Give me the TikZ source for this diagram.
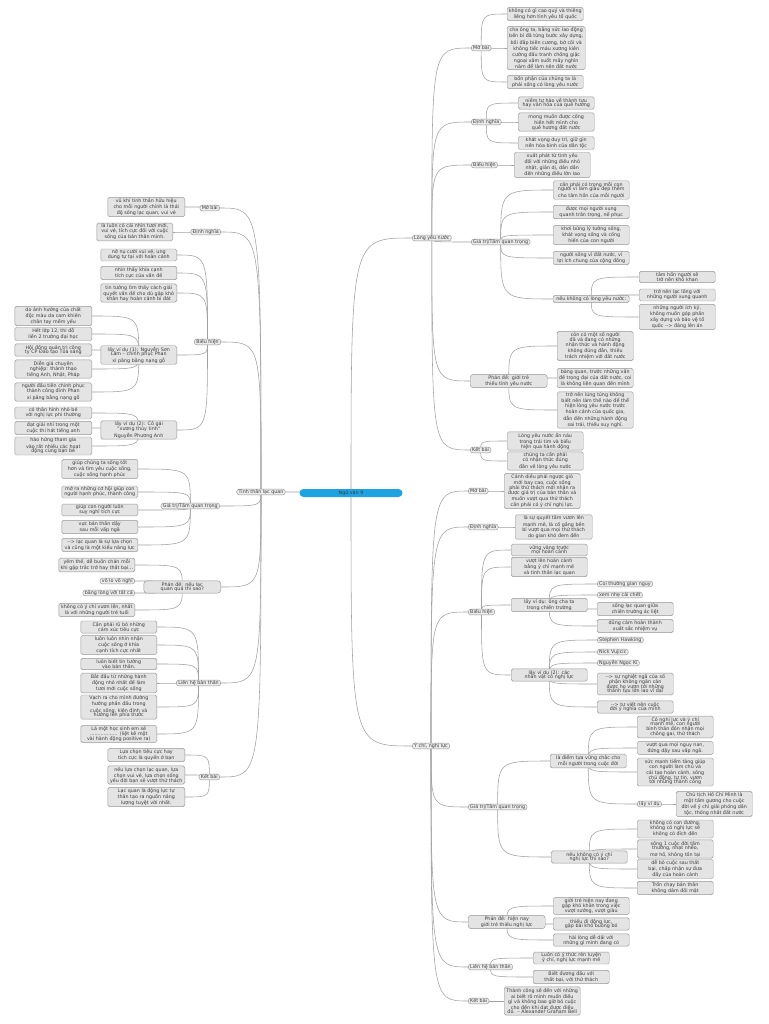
\documentclass[tikz,border=0pt]{standalone}
\usepackage{fontspec}
\newfontfamily\mapfont{DejaVu Sans}
\usetikzlibrary{backgrounds}
\definecolor{rootblue}{RGB}{30,163,226}
\definecolor{boxgray}{RGB}{228,228,228}
\definecolor{edgegray}{RGB}{150,150,150}
\definecolor{wiregray}{RGB}{160,160,160}
\definecolor{inkgray}{RGB}{60,60,60}

\begin{document}
\begin{tikzpicture}[x=1pt, y=-1pt, font=\mapfont\fontsize{4.8}{4.9}\selectfont, text=inkgray, line join=round, line cap=round,
	leaf/.style={draw=edgegray, fill=boxgray, line width=0.45pt, rounded corners=1.6pt, inner xsep=1.5pt, inner ysep=1.1pt, align=center, text width=#1},
	leaf/.default=73pt,
	tag/.style={draw=edgegray, fill=boxgray!70, line width=0.45pt, rounded corners=2.8pt, inner xsep=2pt, inner ysep=0.7pt, text height=3.4pt, text depth=1.1pt},
	rootnode/.style={fill=rootblue, rounded corners=4pt, minimum width=103pt, minimum height=8pt, inner sep=0.5pt},
	wire/.style={draw=wiregray, line width=0.55pt}]
	\useasboundingbox (0,0) rectangle (768,1024);
	% Trung tâm
	\node[rootnode] (root) at (351,493) {Ngữ văn 9};
	\node[tag] (lq) at (261,492) {Tinh thần lạc quan};
	% Nhánh phải
	\begin{scope}[every node/.append style={anchor=west}]
	\node[tag] (yn) at (412,238) {Lòng yêu nước};
	\node[tag] (yn1) at (471,48) {Mở bài};
	\node[leaf] (yn1a) at (507,14) {không có gì cao quý và thiêng liêng hơn tình yêu tổ quốc};
	\node[leaf=75pt] (yn1b) at (507,48) {cha ông ta, bằng sức lao động bền bỉ đã từng bước xây dựng, bồi đắp biên cương, bờ cõi và không tiếc máu xương kiên cường đấu tranh chống giặc ngoại xâm suốt mấy nghìn năm để làm nên đất nước};
	\node[leaf] (yn1c) at (507,82) {bổn phận của chúng ta là phải sống có lòng yêu nước};
	\node[tag] (yn2) at (471,122) {Định nghĩa};
	\node[leaf] (yn2a) at (518,103) {niềm tự hào về thành tựu hay văn hóa của quê hương};
	\node[leaf] (yn2b) at (518,122) {mong muốn được cống hiến hết mình cho quê hương đất nước};
	\node[leaf] (yn2c) at (518,143) {khát vọng duy trì, giữ gìn nền hòa bình của dân tộc};
	\node[tag] (yn3) at (471,165) {Biểu hiện};
	\node[leaf] (yn3a) at (514,165) {xuất phát từ tình yêu đối với những điều nhỏ nhặt, giản dị, dần dần đến những điều lớn lao};
	\node[tag] (yn4) at (471,242) {Giá trị/Tầm quan trọng};
	\node[leaf] (yn4a) at (553,190) {cần phải có trong mỗi con người vì làm giàu đẹp thêm cho tâm hồn của mỗi người};
	\node[leaf] (yn4b) at (553,212) {được mọi người xung quanh trân trọng, nể phục};
	\node[leaf] (yn4c) at (553,235) {khơi bừng lý tưởng sống, khát vọng sống và cống hiến của con người};
	\node[leaf] (yn4d) at (553,258) {người sống vì đất nước, vì lợi ích chung của cộng đồng};
	\node[leaf] (yn4e) at (553,299) {nếu không có lòng yêu nước:};
	\node[leaf] (yn4e1) at (639,277) {tâm hồn người sẽ trở nên khô khan};
	\node[leaf] (yn4e2) at (639,295) {trở nên lạc lõng với những người xung quanh};
	\node[leaf] (yn4e3) at (639,317) {những người ích kỷ, không muốn góp phần xây dựng và bảo vệ tổ quốc --> đáng lên án};
	\node[leaf=74pt, rounded corners=3pt] (yn5) at (470,381) {Phản đề: giới trẻ thiếu tình yêu nước};
	\node[leaf] (yn5a) at (557,346) {còn có một số người đã và đang có những nhận thức và hành động không đúng đắn, thiếu trách nhiệm với đất nước};
	\node[leaf] (yn5b) at (557,378) {bàng quan, trước những vấn đề trọng đại của đất nước, coi là không liên quan đến mình};
	\node[leaf] (yn5c) at (557,410) {trở nên lúng túng không biết nên làm thế nào để thể hiện lòng yêu nước trước hoàn cảnh của quốc gia, dẫn đến những hành động sai trái, thiếu suy nghĩ.};
	\node[tag] (yn6) at (470,450) {Kết bài};
	\node[leaf] (yn6a) at (507,441) {Lòng yêu nước ẩn náu trong trái tim và biểu hiện qua hành động};
	\node[leaf] (yn6b) at (507,461) {chúng ta cần phải có nhận thức đúng đắn về lòng yêu nước};
	%
	\node[tag] (yc) at (412,746) {Ý chí, nghị lực};
	\node[tag] (yc1) at (468,491) {Mở bài};
	\node[leaf] (yc1a) at (504,491) {Cánh diều phải ngược gió mới bay cao, cuộc sống phải thử thách mới nhận ra được giá trị của bản thân và muốn vượt qua thử thách cần phải có ý chí nghị lực.};
	\node[tag] (yc2) at (468,527) {Định nghĩa};
	\node[leaf=74pt] (yc2a) at (515,527) {là sự quyết tâm vươn lên mạnh mẽ, là cố gắng bền bỉ vượt qua mọi thử thách do gian khó đem đến};
	\node[tag] (yc3) at (468,612) {Biểu hiện};
	\node[leaf] (yc3a) at (511,550) {vững vàng trước mọi hoàn cảnh};
	\node[leaf] (yc3b) at (511,567) {vượt lên hoàn cảnh bằng ý chí mạnh mẽ và tinh thần lạc quan};
	\node[leaf] (yc3c) at (511,605) {lấy ví dụ: ông cha ta trong chiến trường};
	\node[tag] (yc3c1) at (597,584) {Coi thường gian nguy};
	\node[tag] (yc3c2) at (597,595) {xem nhẹ cái chết};
	\node[leaf] (yc3c3) at (597,609) {sống lạc quan giữa chiến trường ác liệt};
	\node[leaf] (yc3c4) at (597,626) {dũng cảm hoàn thành xuất sắc nhiệm vụ};
	\node[leaf] (yc3d) at (511,675) {lấy ví dụ (2): các nhân vật có nghị lực};
	\node[tag] (yc3d1) at (597,640) {Stephen Hawking};
	\node[tag] (yc3d2) at (597,652) {Nick Vujicic};
	\node[tag] (yc3d3) at (597,663) {Nguyễn Ngọc Kí};
	\node[leaf] (yc3d4) at (597,684) {--> sự nghiệt ngã của số phận không ngăn cản được họ vươn tới những thành tựu lớn lao vĩ đại};
	\node[leaf] (yc3d5) at (597,707) {--> tự viết nên cuộc đời ý nghĩa của mình};
	\node[tag] (yc4) at (468,807) {Giá trị/Tầm quan trọng};
	\node[leaf] (yc4a) at (550,761) {là điểm tựa vững chắc cho mỗi người trong cuộc đời};
	\node[leaf] (yc4a1) at (637,727) {Có nghị lực và ý chí mạnh mẽ, con người bình thản đón nhận mọi chông gai, thử thách};
	\node[leaf] (yc4a2) at (637,748) {vượt qua mọi nguy nan, đứng dậy sau vấp ngã.};
	\node[leaf] (yc4a3) at (637,772) {sức mạnh tiềm tàng giúp con người làm chủ và cải tạo hoàn cảnh, sống chủ động, tự tin, vươn tới những thành công};
	\node[tag] (yc4a4) at (637,804) {lấy ví dụ};
	\node[leaf] (yc4a4a) at (676,804) {Chủ tịch Hồ Chí Minh là một tấm gương cho cuộc đời về ý chí giải phóng dân tộc, thống nhất đất nước};
	\node[leaf] (yc4b) at (551,857) {nếu không có ý chí nghị lực thì sao?};
	\node[leaf] (yc4b1) at (637,829) {không có con đường, không có nghị lực sẽ không có đích đến};
	\node[leaf] (yc4b2) at (637,849) {sống 1 cuộc đời tầm thường, nhạt nhẽo, mơ hồ, không tồn tại};
	\node[leaf] (yc4b3) at (637,869) {dễ bỏ cuộc sau thất bại, chấp nhận sự đưa đẩy của hoàn cảnh};
	\node[leaf] (yc4b4) at (637,888) {Trốn chạy bản thân không dám đối mặt};
	\node[leaf=74pt, rounded corners=3pt] (yc5) at (468,922) {Phản đề: hiện nay giới trẻ thiếu nghị lực};
	\node[leaf] (yc5a) at (553,906) {giới trẻ hiện nay đang gặp khó khăn trong việc vượt sướng, vượt giàu};
	\node[leaf] (yc5b) at (553,924) {thiếu đi động lực, gặp bài khó buông bỏ};
	\node[leaf] (yc5c) at (553,940) {hài lòng dễ dãi với những gì mình đang có};
	\node[tag] (yc6) at (468,967) {Liên hệ bản thân};
	\node[leaf] (yc6a) at (533,958) {Luôn có ý thức rèn luyện ý chí, nghị lực mạnh mẽ};
	\node[leaf] (yc6b) at (533,977) {Biết đương đầu với thất bại, với thử thách};
	\node[tag] (yc7) at (468,1001) {Kết bài};
	\node[leaf] (yc7a) at (504,1001) {Thành công sẽ đến với những ai biết rõ mình muốn điều gì và không bao giờ bỏ cuộc cho đến khi đạt được điều đó. – Alexander Graham Bell};
	\end{scope}
	% Nhánh trái
	\begin{scope}[every node/.append style={anchor=east}]
	\node[tag] (lq1) at (220,208) {Mở bài};
	\node[leaf=74pt] (lq1a) at (185,207) {vũ khí tinh thần hữu hiệu cho mỗi người chính là thái độ sống lạc quan, vui vẻ};
	\node[tag] (lq2) at (221,232) {Định nghĩa};
	\node[leaf] (lq2a) at (173,232) {là luôn có cái nhìn tươi mới, vui vẻ, tích cực đối với cuộc sống của bản thân mình.};
	\node[tag] (lq3) at (221,342) {Biểu hiện};
	\node[leaf] (lq3a) at (177,255) {nở nụ cười vui vẻ, ung dung tự tại với hoàn cảnh};
	\node[leaf] (lq3b) at (177,273) {nhìn thấy khía cạnh tích cực của vấn đề};
	\node[leaf] (lq3c) at (177,293) {tin tưởng tìm thấy cách giải quyết vấn đề cho dù gặp khó khăn hay hoàn cảnh bi đát};
	\node[leaf] (lq3d) at (177,355) {lấy ví dụ (1): Nguyễn Sơn Lâm – chinh phục Phan xi păng bằng nạng gỗ};
	\node[leaf=74pt] (lq3d1) at (92,316) {do ảnh hưởng của chất độc màu da cam khiến chân tay mềm yếu};
	\node[leaf=74pt] (lq3d2) at (92,334) {Hết lớp 12, thi đỗ liền 2 trường đại học};
	\node[leaf=74pt] (lq3d3) at (92,350) {Hội đồng quản trị công ty CP Đào tạo Tỏa sáng};
	\node[leaf=74pt] (lq3d4) at (92,369) {Diễn giả chuyên nghiệp: thành thạo tiếng Anh, Nhật, Pháp};
	\node[leaf=74pt] (lq3d5) at (92,392) {người đầu tiên chinh phục thành công đỉnh Phan xi păng bằng nạng gỗ};
	\node[leaf] (lq3e) at (177,430) {lấy ví dụ (2): Cô gái "xương thủy tinh" Nguyễn Phương Anh};
	\node[leaf=74pt] (lq3e1) at (92,413) {có thân hình nhỏ bé với nghị lực phi thường};
	\node[leaf=74pt] (lq3e2) at (92,428) {đạt giải nhì trong một cuộc thi hát tiếng anh};
	\node[leaf=74pt] (lq3e3) at (92,446) {hào hứng tham gia vào rất nhiều các hoạt động cùng bạn bè};
	\node[tag] (lq4) at (220,506) {Giá trị/Tầm quan trọng};
	\node[leaf] (lq4a) at (138,469) {giúp chúng ta sống tốt hơn và tìm yêu cuộc sống, cuộc sống hạnh phúc};
	\node[leaf] (lq4b) at (138,492) {mở ra những cơ hội giúp con người hạnh phúc, thành công};
	\node[leaf] (lq4c) at (138,510) {giúp con người luôn suy nghĩ tích cực};
	\node[leaf] (lq4d) at (138,527) {vực bản thân dậy sau mỗi vấp ngã};
	\node[leaf] (lq4e) at (138,545) {--> lạc quan là sự lựa chọn và cũng là một kiểu năng lực};
	\node[leaf=74pt, rounded corners=3pt] (lq5) at (221,587) {Phản đề: nếu lạc quan quá thì sao?};
	\node[leaf] (lq5a) at (135,565) {yếm thế, dễ buồn chán mỗi khi gặp trắc trở hay thất bại...};
	\node[tag] (lq5b) at (135,581) {vô lo vô nghĩ};
	\node[tag] (lq5c) at (135,593) {bằng lòng với tất cả};
	\node[leaf] (lq5d) at (135,610) {không có ý chí vươn lên, nhất là với những người trẻ tuổi};
	\node[tag] (lq6) at (221,683) {Liên hệ bản thân};
	\node[leaf] (lq6a) at (157,627) {Cần phải rũ bỏ những cảm xúc tiêu cực};
	\node[leaf] (lq6b) at (157,645) {luôn luôn nhìn nhận cuộc sống ở khía cạnh tích cực nhất};
	\node[leaf] (lq6c) at (157,664) {luôn biết tin tưởng vào bản thân.};
	\node[leaf] (lq6d) at (157,683) {Bắt đầu từ những hành động nhỏ nhất để làm tươi mới cuộc sống};
	\node[leaf] (lq6e) at (157,707) {Vạch ra cho mình đường hướng phấn đấu trong cuộc sống, kiên định và hướng lên phía trước};
	\node[leaf] (lq6f) at (157,734) {Là một học sinh em sẽ .................. (liệt kê một vài hành động positive ra)};
	\node[tag] (lq7) at (220,777) {Kết bài};
	\node[leaf=74pt] (lq7a) at (185,755) {Lựa chọn tiêu cực hay tích cực là quyền ở bạn};
	\node[leaf=74pt] (lq7b) at (185,775) {nếu lựa chọn lạc quan, lựa chọn vui vẻ, lựa chọn sống yêu đời bạn sẽ vượt thử thách};
	\node[leaf=74pt] (lq7c) at (185,797) {Lạc quan là động lực tự thân tạo ra nguồn năng lượng tuyệt vời nhất.};
	\end{scope}
	% Đường nối
	\begin{scope}[on background layer]
	\fill[white] (0,0) rectangle (768,1024);
	\foreach \p/\c in {root/yn, root/yc, yn/yn1, yn/yn2, yn/yn3, yn/yn4, yn/yn5, yn/yn6,
		yn1/yn1a, yn1/yn1b, yn1/yn1c, yn2/yn2a, yn2/yn2b, yn2/yn2c, yn3/yn3a,
		yn4/yn4a, yn4/yn4b, yn4/yn4c, yn4/yn4d, yn4/yn4e, yn4e/yn4e1, yn4e/yn4e2, yn4e/yn4e3,
		yn5/yn5a, yn5/yn5b, yn5/yn5c, yn6/yn6a, yn6/yn6b,
		yc/yc1, yc/yc2, yc/yc3, yc/yc4, yc/yc5, yc/yc6, yc/yc7,
		yc1/yc1a, yc2/yc2a, yc3/yc3a, yc3/yc3b, yc3/yc3c, yc3/yc3d,
		yc3c/yc3c1, yc3c/yc3c2, yc3c/yc3c3, yc3c/yc3c4,
		yc3d/yc3d1, yc3d/yc3d2, yc3d/yc3d3, yc3d/yc3d4, yc3d/yc3d5,
		yc4/yc4a, yc4/yc4b, yc4a/yc4a1, yc4a/yc4a2, yc4a/yc4a3, yc4a/yc4a4, yc4a4/yc4a4a,
		yc4b/yc4b1, yc4b/yc4b2, yc4b/yc4b3, yc4b/yc4b4,
		yc5/yc5a, yc5/yc5b, yc5/yc5c, yc6/yc6a, yc6/yc6b, yc7/yc7a}
		\draw[wire] (\p.center) .. controls (\p.center |- \c.west) .. (\c.west);
	\foreach \p/\c in {root/lq, lq/lq1, lq/lq2, lq/lq3, lq/lq4, lq/lq5, lq/lq6, lq/lq7,
		lq1/lq1a, lq2/lq2a, lq3/lq3a, lq3/lq3b, lq3/lq3c, lq3/lq3d, lq3/lq3e,
		lq3d/lq3d1, lq3d/lq3d2, lq3d/lq3d3, lq3d/lq3d4, lq3d/lq3d5,
		lq3e/lq3e1, lq3e/lq3e2, lq3e/lq3e3,
		lq4/lq4a, lq4/lq4b, lq4/lq4c, lq4/lq4d, lq4/lq4e,
		lq5/lq5a, lq5/lq5b, lq5/lq5c, lq5/lq5d,
		lq6/lq6a, lq6/lq6b, lq6/lq6c, lq6/lq6d, lq6/lq6e, lq6/lq6f,
		lq7/lq7a, lq7/lq7b, lq7/lq7c}
		\draw[wire] (\p.center) .. controls (\p.center |- \c.east) .. (\c.east);
	\end{scope}
\end{tikzpicture}
\end{document}
